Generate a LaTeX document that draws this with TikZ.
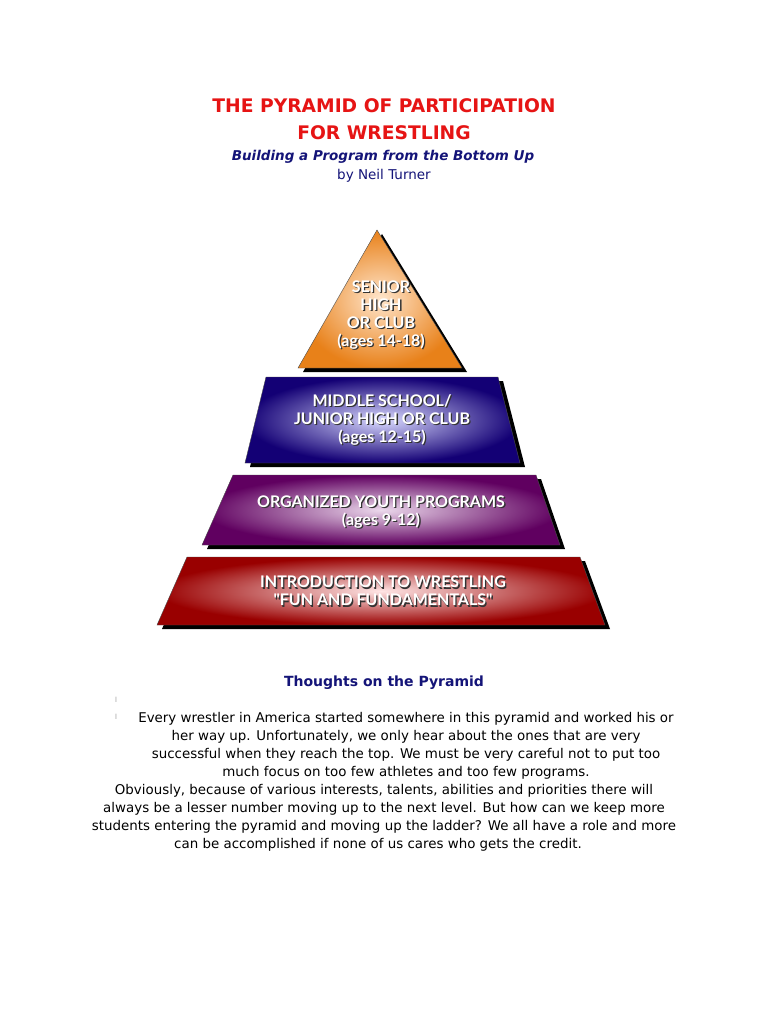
\documentclass[tikz,border=0pt]{standalone}
\usepackage{fontspec}
\setmainfont{DejaVu Sans}
\newfontfamily\pyrfont{Lato}
\definecolor{titred}{RGB}{230,20,20}
\definecolor{navy}{RGB}{20,20,120}
\begin{document}
\begin{tikzpicture}[x=1pt,y=-1pt,
  lay/.style={draw=black!70,line width=0.4pt},
  shad/.style={fill=black},
  ptxt/.style={text=white,font=\pyrfont\bfseries\fontsize{16}{18}\selectfont,align=center},
  ptsh/.style={text=black!80,font=\pyrfont\bfseries\fontsize{16}{18}\selectfont,align=center},
  body/.style={font=\fontsize{13.4}{18}\selectfont,anchor=base}]
\useasboundingbox (0,0) rectangle (768,1024);
\fill[white] (0,0) rectangle (768,1024);
% titles
\node[text=titred,font=\bfseries\fontsize{18.7}{22}\selectfont] (t1) at (384,106) {THE PYRAMID OF PARTICIPATION};
\node[text=titred,font=\bfseries\fontsize{18.7}{22}\selectfont] (t2) at (384,133) {FOR WRESTLING};
\node[text=navy,font=\bfseries\itshape\fontsize{13.5}{16}\selectfont] (t3) at (383,157) {Building a Program from the Bottom Up};
\node[text=navy,font=\fontsize{13.5}{16}\selectfont] (t4) at (384,176) {by Neil Turner};
% shadows
\fill[shad] (382,234) -- (467,372) -- (303,372) -- cycle;
\fill[shad] (271,381) -- (503,381) -- (525,467) -- (250,467) -- cycle;
\fill[shad] (238,479) -- (541,479) -- (565,549) -- (207,549) -- cycle;
\fill[shad] (192,561) -- (585,561) -- (610,629) -- (162,629) -- cycle;
% layers
\shade[lay,inner color=orange!20!white,outer color=orange!90!black!90] (377,230) -- (462,368) -- (298,368) -- cycle;
\shade[lay,inner color=blue!15!white,outer color=blue!45!black!85!violet] (266,377) -- (498,377) -- (520,463) -- (245,463) -- cycle;
\shade[lay,inner color=violet!15!white,outer color=violet!75!black] (233,475) -- (536,475) -- (560,545) -- (202,545) -- cycle;
\shade[lay,inner color=red!10!white,outer color=red!60!black] (187,557) -- (580,557) -- (605,625) -- (157,625) -- cycle;
% texts
\node[ptsh] (S1) at (382.3,316.3) {SENIOR\\HIGH\\OR CLUB\\(ages 14-18)};
\node[ptxt] (L1) at (381,315) {SENIOR\\HIGH\\OR CLUB\\(ages 14-18)};
\node[ptsh] (S2) at (383.3,421.3) {MIDDLE SCHOOL/\\JUNIOR HIGH OR CLUB\\(ages 12-15)};
\node[ptxt] (L2) at (382,420) {MIDDLE SCHOOL/\\JUNIOR HIGH OR CLUB\\(ages 12-15)};
\node[ptsh] (S3) at (382.3,513.3) {ORGANIZED YOUTH PROGRAMS\\(ages 9-12)};
\node[ptxt] (L3) at (381,512) {ORGANIZED YOUTH PROGRAMS\\(ages 9-12)};
\node[ptsh] (S4) at (384.3,592.3) {INTRODUCTION TO WRESTLING\\"FUN AND FUNDAMENTALS"};
\node[ptxt] (L4) at (383,591) {INTRODUCTION TO WRESTLING\\"FUN AND FUNDAMENTALS"};
% thoughts
\node[text=navy,font=\bfseries\fontsize{14}{16}\selectfont] (th) at (384,683) {Thoughts on the Pyramid};
\node[text=black!40,font=\fontsize{7}{8}\selectfont] (b1) at (116,700) {l};
\node[text=black!40,font=\fontsize{7}{8}\selectfont] (b2) at (116,717) {l};
\node[body] (p1) at (406,722) {Every wrestler in America started somewhere in this pyramid and worked his or};
\node[body] (p2) at (406,740) {her way up. Unfortunately, we only hear about the ones that are very};
\node[body] (p3) at (406,758) {successful when they reach the top. We must be very careful not to put too};
\node[body] (p4) at (406,776) {much focus on too few athletes and too few programs.};
\node[body] (p5) at (384,794) {Obviously, because of various interests, talents, abilities and priorities there will};
\node[body] (p6) at (384,812) {always be a lesser number moving up to the next level. But how can we keep more};
\node[body] (p7) at (384,830) {students entering the pyramid and moving up the ladder? We all have a role and more};
\node[body] (p8) at (378,848) {can be accomplished if none of us cares who gets the credit.};
\end{tikzpicture}
\end{document}
